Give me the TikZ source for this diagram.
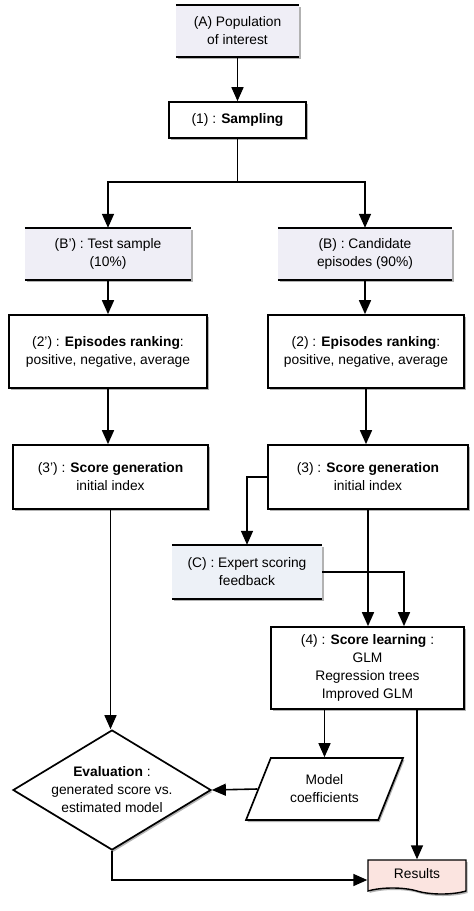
\documentclass[tikz,border=0pt]{standalone}
\usepackage{fontspec}
\setmainfont{Liberation Sans}
\usetikzlibrary{arrows.meta,shapes.geometric,shapes.symbols,shadows}
\definecolor{lavfill}{HTML}{EFEEF6}
\definecolor{bluefill}{HTML}{EDF1F7}
\definecolor{pinkfill}{HTML}{FBE4E0}
\tikzset{
  boxshadow/.style={drop shadow={shadow xshift=1.5pt,shadow yshift=-2pt,opacity=.3,fill=black}},
  procbox/.style={draw, line width=1.7pt, fill=white, align=center, inner sep=2pt, boxshadow},
  databox/.style={fill=lavfill, align=center, inner sep=2pt, boxshadow},
  arr/.style={line width=1.6pt, -{Triangle[length=14pt,width=12pt]}},
  link/.style={line width=1.6pt}
}
\begin{document}
\begin{tikzpicture}[x=1pt,y=-1pt,font=\fontsize{13.8}{18}\selectfont]
\useasboundingbox (0,0) rectangle (474,911);
% top of the flow
\node[databox, minimum width=123pt, minimum height=52pt] (A) at (237.5,31) {(A) Population\\of interest};
\node[procbox, minimum width=137pt, minimum height=36pt] (S) at (237.5,120) {(1) : \textbf{Sampling}};
\coordinate (split) at (237.5,182);
% samples
\node[databox, minimum width=166pt, minimum height=52pt] (Bp) at (108,254) {(B') : Test sample\\(10\%)};
\node[databox, minimum width=174pt, minimum height=52pt] (B) at (365,254) {(B) : Candidate\\episodes (90\%)};
% ranking and scores
\node[procbox, minimum width=198pt, minimum height=73pt] (R2p) at (108,351.5) {(2') : \textbf{Episodes ranking}:\\positive, negative, average};
\node[procbox, minimum width=196pt, minimum height=73pt] (R2) at (366,351.5) {(2) : \textbf{Episodes ranking}:\\positive, negative, average};
\node[procbox, minimum width=195pt, minimum height=64pt] (G3p) at (110.5,477) {(3') : \textbf{Score generation}\\initial index};
\node[procbox, minimum width=200pt, minimum height=64pt] (G3) at (368,477) {(3) : \textbf{Score generation}\\initial index};
\node[databox, fill=bluefill, minimum width=150pt, minimum height=54pt] (C) at (247,572) {(C) : Expert scoring\\feedback};
\node[procbox, minimum width=193pt, minimum height=82pt] (L4) at (367.5,668) {(4) : \textbf{Score learning} :\\GLM\\Regression trees\\Improved GLM};
% bottom of the flow
\node[trapezium, trapezium left angle=63.4, trapezium right angle=116.6, trapezium stretches=true,
      draw, line width=1.7pt, fill=white, boxshadow, align=center,
      minimum width=157pt, minimum height=62pt] (M) at (324.5,789) {Model\\coefficients};
\node[diamond, draw, line width=1.7pt, fill=white, boxshadow, inner sep=0pt,
      minimum width=198pt, minimum height=120pt] (E) at (112,790) {};
\node[align=center] at (E) {\textbf{Evaluation} :\\generated score vs.\\estimated model};
\node[tape, tape bend top=none, tape bend bottom=out and in, tape bend height=6pt,
      draw, line width=1.4pt, fill=pinkfill, boxshadow,
      minimum width=98pt, minimum height=34pt] (Res) at (417,874) {Results};
% black rules on the data boxes
\foreach \n in {A,Bp,B,C}
  \draw[line width=1.7pt] (\n.north west) -- (\n.north east) (\n.south west) -- (\n.south east);
% connectors
\draw[arr] (A) -- (S);
\draw[link] (S) -- (split);
\draw[arr] (split) -| (Bp.north);
\draw[arr] (split) -| (B.north);
\draw[arr] (Bp) -- (Bp |- R2p.north);
\draw[arr] (B) -- (B |- R2.north);
\draw[arr] (R2p) -- (R2p |- G3p.north);
\draw[arr] (R2) -- (R2 |- G3.north);
\draw[arr] (G3.west) -| (C.north);
\draw[arr] (G3) -- (G3 |- L4.north);
\draw[arr] (C.east) -| ([xshift=36.5pt]L4.north);
\draw[arr] (G3p) -- (G3p |- E.north);
\draw[arr] (L4.south -| M.north) -- (M.north);
\draw[arr] (L4.south -| Res.north) -- (Res.north);
\draw[arr] (M.west) -- (E.east);
\draw[arr] (E.south) |- ([yshift=-6pt]Res.west);
\end{tikzpicture}
\end{document}
